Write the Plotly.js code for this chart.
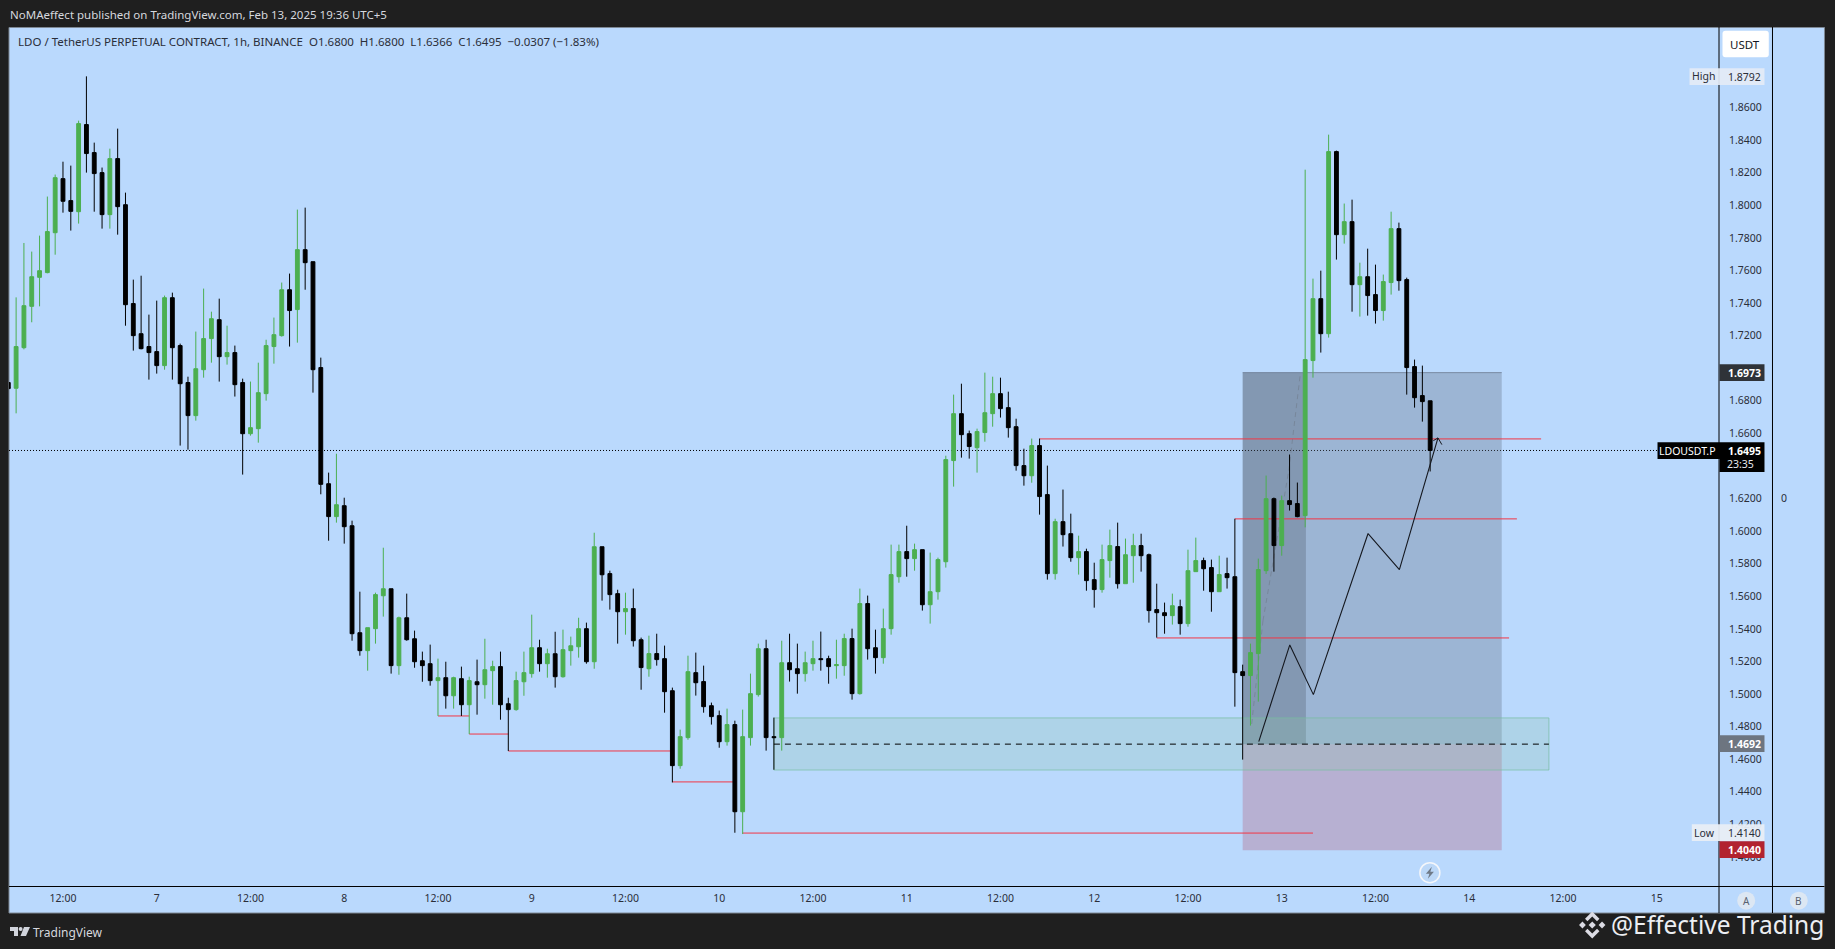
<!DOCTYPE html>
<html>
<head>
<meta charset="utf-8">
<title>LDOUSDT.P</title>
<script src="https://cdn.plot.ly/plotly-3.0.1.min.js"></script>
<style>html,body{margin:0;padding:0;background:#1f1f1f;overflow:hidden}#chart{width:1835px;height:949px}</style>
</head>
<body>
<div id="chart"></div>
<script>
// hours since Feb 6 00:00
const hours = [5,6,7,8,9,10,11,12,13,14,15,16,17,18,19,20,21,22,23,24,25,26,27,28,29,30,31,32,33,34,35,36,37,38,39,40,41,42,43,44,45,46,47,48,49,50,51,52,53,54,55,56,57,58,59,60,61,62,63,64,65,66,67,68,69,70,71,72,73,74,75,76,77,78,79,80,81,82,83,84,85,86,87,88,89,90,91,92,93,94,95,96,97,98,99,100,101,102,103,104,105,106,107,108,109,110,111,112,113,114,115,116,117,118,119,120,121,122,123,124,125,126,127,128,129,130,131,132,133,134,135,136,137,138,139,140,141,142,143,144,145,146,147,148,149,150,151,152,153,154,155,156,157,158,159,160,161,162,163,164,165,166,167,168,169,170,171,172,173,174,175,176,177,178,179,180,181,182,183,184,185,186,187];
const open = [1.6912,1.6877,1.7126,1.7380,1.7558,1.7587,1.7832,1.8164,1.8029,1.7961,
1.8496,1.8324,1.8201,1.7943,1.8287,1.8004,1.7397,1.7212,1.7133,1.7102,
1.7016,1.7433,1.7139,1.6912,1.6709,1.6991,1.7182,1.7298,1.7071,1.7096,
1.6912,1.6598,1.6629,1.6844,1.7133,1.7200,1.7482,1.7360,1.7728,1.7654,
1.7004,1.6291,1.6089,1.6156,1.6033,1.5376,1.5266,1.5401,1.5603,1.5646,
1.5174,1.5468,1.5339,1.5204,1.5186,1.5082,1.5100,1.4989,1.5094,1.4934,
1.5075,1.5057,1.5143,1.5168,1.4940,1.4904,1.5075,1.5125,1.5284,1.5186,
1.5247,1.5106,1.5266,1.5290,1.5401,1.5198,1.5904,1.5739,1.5616,1.5505,
1.5524,1.5333,1.5155,1.5248,1.5217,1.5020,1.4560,1.4732,1.5131,1.5076,
1.4928,1.4867,1.4707,1.4812,1.4277,1.4732,1.4996,1.5278,1.4738,1.4732,
1.5192,1.5155,1.5125,1.5186,1.5217,1.5217,1.5174,1.5174,1.5340,1.5002,
1.5555,1.5284,1.5223,1.5401,1.5720,1.5874,1.5831,1.5886,1.5548,1.5628,
1.5812,1.6433,1.6721,1.6598,1.6512,1.6605,1.6721,1.6844,1.6758,1.6641,
1.6402,1.6340,1.6525,1.6224,1.5739,1.6058,1.5984,1.5837,1.5874,1.5702,
1.5641,1.5819,1.5905,1.5677,1.5849,1.5911,1.5855,1.5518,1.5499,1.5481,
1.5536,1.5432,1.5751,1.5819,1.5776,1.5628,1.5739,1.5720,1.5137,1.5113,
1.5248,1.5757,1.6199,1.5911,1.6187,1.6169,1.6095,1.7047,1.7427,1.7212,
1.8330,1.7820,1.7900,1.7513,1.7562,1.7452,1.7354,1.7526,1.7857,1.7544,
1.7010,1.6832,1.6800];
const high = [1.6944,1.7435,1.7769,1.7716,1.7814,1.8054,1.8189,1.8268,1.8244,1.8520,
1.8792,1.8385,1.8232,1.8348,1.8471,1.8078,1.7544,1.7568,1.7329,1.7415,
1.7446,1.7464,1.7151,1.6948,1.7225,1.7489,1.7347,1.7427,1.7261,1.7139,
1.6936,1.6918,1.7034,1.7175,1.7311,1.7526,1.7581,1.7974,1.7986,1.7654,
1.7065,1.6359,1.6475,1.6205,1.6064,1.5628,1.5407,1.5622,1.5898,1.5646,
1.5475,1.5616,1.5389,1.5260,1.5303,1.5217,1.5198,1.5106,1.5168,1.5106,
1.5211,1.5339,1.5204,1.5260,1.4977,1.5137,1.5260,1.5487,1.5333,1.5278,
1.5382,1.5395,1.5352,1.5468,1.5438,1.5990,1.5904,1.5757,1.5640,1.5622,
1.5647,1.5346,1.5358,1.5370,1.5297,1.5039,1.4781,1.5235,1.5254,1.5174,
1.4947,1.4898,1.4910,1.4836,1.4904,1.5125,1.5309,1.5333,1.4855,1.5327,
1.5370,1.5309,1.5260,1.5327,1.5383,1.5235,1.5333,1.5370,1.5401,1.5647,
1.5604,1.5395,1.5524,1.5917,1.5917,1.6033,1.5923,1.5886,1.5868,1.5837,
1.6463,1.6838,1.6905,1.6617,1.6629,1.6973,1.6948,1.6942,1.6856,1.6690,
1.6506,1.6568,1.6568,1.6402,1.6076,1.6255,1.6107,1.5972,1.5892,1.5806,
1.5917,1.6009,1.6052,1.5954,1.5984,1.5984,1.5862,1.5677,1.5561,1.5616,
1.5579,1.5886,1.5960,1.5837,1.5825,1.5849,1.5837,1.6076,1.5180,1.5309,
1.5831,1.6341,1.6206,1.6218,1.6470,1.6298,1.8219,1.7550,1.7599,1.8434,
1.8336,1.8011,1.8035,1.7648,1.7734,1.7636,1.7575,1.7961,1.7894,1.7556,
1.7053,1.7016,1.6800];
const low = [1.6842,1.6723,1.7116,1.7282,1.7380,1.7583,1.7697,1.7955,1.7845,1.7888,
1.8201,1.7961,1.7857,1.7857,1.7820,1.7261,1.7108,1.7116,1.6930,1.6967,
1.6991,1.6930,1.6525,1.6500,1.6678,1.6942,1.7034,1.6918,1.7022,1.6826,
1.6347,1.6586,1.6543,1.6801,1.7028,1.7194,1.7133,1.7157,1.7482,1.6850,
1.6226,1.5941,1.6052,1.5923,1.5327,1.5235,1.5143,1.5309,1.5475,1.5125,
1.5118,1.5327,1.5161,1.5075,1.5051,1.4865,1.4910,1.4910,1.4865,1.4754,
1.4873,1.4971,1.4934,1.4842,1.4650,1.4897,1.4989,1.5100,1.5137,1.5100,
1.5039,1.5100,1.5174,1.5223,1.5186,1.5155,1.5573,1.5518,1.5309,1.5364,
1.5291,1.5026,1.5106,1.5174,1.4885,1.4457,1.4541,1.4719,1.4990,1.4885,
1.4812,1.4670,1.4683,1.4148,1.4140,1.4683,1.4984,1.4652,1.4535,1.4652,
1.5076,1.5002,1.5076,1.5143,1.5143,1.5063,1.5094,1.5112,1.4965,1.4996,
1.5211,1.5125,1.5186,1.5364,1.5683,1.5720,1.5757,1.5512,1.5432,1.5579,
1.5776,1.6273,1.6451,1.6445,1.6359,1.6549,1.6641,1.6697,1.6574,1.6371,
1.6279,1.6297,1.6101,1.5702,1.5702,1.5905,1.5812,1.5733,1.5634,1.5530,
1.5622,1.5714,1.5647,1.5677,1.5683,1.5751,1.5438,1.5346,1.5370,1.5426,
1.5364,1.5413,1.5751,1.5634,1.5505,1.5628,1.5647,1.4922,1.4597,1.4806,
1.4953,1.5737,1.5751,1.5849,1.6126,1.6085,1.6023,1.6942,1.7096,1.7188,
1.7667,1.7765,1.7347,1.7317,1.7323,1.7274,1.7292,1.7452,1.7476,1.6838,
1.6758,1.6672,1.6366];
const close = [1.6875,1.7133,1.7384,1.7562,1.7599,1.7839,1.8170,1.8025,1.7963,1.8502,
1.8318,1.8195,1.7943,1.8287,1.7992,1.7390,1.7200,1.7120,1.7096,1.7016,
1.7433,1.7126,1.6905,1.6709,1.6997,1.7182,1.7304,1.7071,1.7096,1.6899,
1.6598,1.6635,1.6850,1.7139,1.7206,1.7482,1.7354,1.7728,1.7648,1.6991,
1.6287,1.6089,1.6162,1.6027,1.5370,1.5266,1.5407,1.5610,1.5646,1.5174,
1.5468,1.5333,1.5198,1.5174,1.5082,1.5100,1.4989,1.5100,1.4934,1.5082,
1.5057,1.5149,1.5168,1.4934,1.4904,1.5082,1.5131,1.5284,1.5186,1.5247,
1.5106,1.5272,1.5296,1.5401,1.5198,1.5904,1.5732,1.5610,1.5505,1.5524,
1.5327,1.5162,1.5248,1.5211,1.5014,1.4560,1.4738,1.5137,1.5069,1.4922,
1.4861,1.4707,1.4812,1.4277,1.4738,1.5002,1.5278,1.4732,1.4732,1.5192,
1.5149,1.5125,1.5192,1.5217,1.5211,1.5168,1.5180,1.5340,1.5002,1.5555,
1.5278,1.5223,1.5401,1.5733,1.5874,1.5831,1.5886,1.5548,1.5628,1.5825,
1.6439,1.6721,1.6592,1.6519,1.6611,1.6727,1.6844,1.6752,1.6635,1.6402,
1.6340,1.6525,1.6212,1.5739,1.6058,1.5978,1.5837,1.5874,1.5696,1.5641,
1.5825,1.5911,1.5677,1.5855,1.5911,1.5849,1.5512,1.5499,1.5481,1.5542,
1.5432,1.5757,1.5819,1.5769,1.5628,1.5733,1.5714,1.5131,1.5113,1.5254,
1.5764,1.6199,1.5911,1.6187,1.6163,1.6089,1.7053,1.7427,1.7212,1.8330,
1.7820,1.7900,1.7513,1.7562,1.7446,1.7354,1.7532,1.7857,1.7538,1.7004,
1.6819,1.6795,1.6495];

// axis ticks
const xTickVals = [12,24,36,48,60,72,84,96,108,120,132,144,156,168,180,192,204,216];
const xTickText = ['12:00','7','12:00','8','12:00','9','12:00','10','12:00','11','12:00','12','12:00','13','12:00','14','12:00','15'];
const yTickVals = [1.40,1.42,1.44,1.46,1.48,1.50,1.52,1.54,1.56,1.58,1.60,1.62,1.66,1.68,1.72,1.74,1.76,1.78,1.80,1.82,1.84,1.86];

// drawn levels: [start hour, end hour, price]
const redHours0 = [60,64,69,90,99,137,162,152];
const redHours1 = [64,69,90,98,172,201.2,198.1,197.1];
const redPrices = [1.4865,1.4754,1.4650,1.4460,1.4146,1.6566,1.6075,1.5344];
const lastPrice = 1.6495;
const demandZone = {x0:103,x1:202.2,top:1.4853,bottom:1.4533,mid:1.4692};
const position = {x0:163,xSplit:171.1,x1:196.16,target:1.6973,entry:1.4692,stop:1.4040};
const zigHours = [165.06,169.03,172.05,179.05,183.06,188.0];
const zigPrices = [1.4707,1.5301,1.4996,1.5985,1.5764,1.6572];
const headHours = [187.4,188.0,188.5];
const headPrices = [1.6555,1.6572,1.6531];
const ghostHours = [164.15,165.6,168.9,170.35];
const ghostPrices = [1.4816,1.5450,1.6371,1.6954];

const L=9,R=1719.5,T=27,B=886,W=1835,H=949;
const px=x=>(x-L)/(R-L), py=y=>(B-y)/(B-T);
const BLUE='#bad9fd', FONT='"Noto Sans", sans-serif';

function pr(x0,y0,x1,y1,fill,line,layer){return {type:'rect',xref:'paper',yref:'paper',x0:px(x0),x1:px(x1),y0:py(y0),y1:py(y1),fillcolor:fill,line:line||{width:0},layer:layer||'above'};}
function pl(x0,y0,x1,y1,color,w){return {type:'line',xref:'paper',yref:'paper',x0:px(x0),x1:px(x1),y0:py(y0),y1:py(y1),line:{color:color,width:w||1},layer:'above'};}
function poly(pts,fill){return {type:'path',xref:'paper',yref:'paper',path:'M'+pts.map(p=>px(p[0])+' '+py(p[1])).join(' L')+' Z',fillcolor:fill,line:{width:0},layer:'above'};}
function circ(cx,cy,r,fill,line){return {type:'circle',xref:'paper',yref:'paper',x0:px(cx-r),x1:px(cx+r),y0:py(cy+r),y1:py(cy-r),fillcolor:fill,line:line||{width:0},layer:'above'};}
function txt(text,x,y,size,color,anchor,opts){return Object.assign({xref:'paper',yref:'paper',x:px(x),y:py(y),text:text,showarrow:false,xanchor:anchor||'left',yanchor:'middle',font:{family:FONT,size:size,color:color},borderpad:0,borderwidth:0},opts||{});}

const shapes=[];
// panel background (extends under the right-hand scales)
shapes.push(pr(9,27.5,1825,913,BLUE,{color:'#7e8894',width:1},'below'));
// position tool
shapes.push({type:'rect',xref:'x',yref:'y',x0:position.x0,x1:position.x1,y0:position.entry,y1:position.target,fillcolor:'rgba(101,114,136,0.35)',line:{width:0},layer:'below'});
shapes.push({type:'rect',xref:'x',yref:'y',x0:position.x0,x1:position.x1,y0:position.stop,y1:position.entry,fillcolor:'rgba(178,100,130,0.35)',line:{width:0},layer:'below'});
shapes.push({type:'rect',xref:'x',yref:'y',x0:position.x0,x1:position.xSplit,y0:position.entry,y1:position.target,fillcolor:'rgba(0,0,0,0.155)',line:{width:0},layer:'below'});
shapes.push({type:'line',xref:'x',yref:'y',x0:position.x0,x1:position.x1,y0:position.target,y1:position.target,line:{color:'rgba(110,125,150,0.8)',width:1},layer:'below'});
// demand zone
shapes.push({type:'rect',xref:'x',yref:'y',x0:demandZone.x0,x1:demandZone.x1,y0:demandZone.bottom,y1:demandZone.top,fillcolor:'rgba(139,197,173,0.25)',line:{color:'rgba(120,190,160,0.7)',width:1},layer:'below'});
shapes.push({type:'line',xref:'x',yref:'y',x0:demandZone.x0,x1:demandZone.x1,y0:demandZone.mid,y1:demandZone.mid,line:{color:'#000',width:1,dash:'6px,5px'},layer:'below'});
// red levels
redPrices.forEach((p,i)=>shapes.push({type:'line',xref:'x',yref:'y',x0:redHours0[i],x1:redHours1[i],y0:p,y1:p,line:{color:'#f23645',width:1},layer:'below'}));
// last price
shapes.push({type:'line',xref:'paper',yref:'y',x0:0,x1:px(1658),y0:lastPrice,y1:lastPrice,line:{color:'#000',width:1,dash:'1px,2px'},layer:'below'});
// ghost projected path
for(let i=0;i<ghostHours.length-1;i++)shapes.push({type:'line',xref:'x',yref:'y',x0:ghostHours[i],x1:ghostHours[i+1],y0:ghostPrices[i],y1:ghostPrices[i+1],line:{color:'rgba(110,120,135,0.55)',width:1,dash:'5px,4px'},layer:'below'});
// frame lines
shapes.push(pl(9,886.5,1825,886.5,'#000'),pl(1719.5,27,1719.5,913,'#000'),pl(1773,27,1773,913,'#000'));
// price scale boxes
shapes.push(pr(1690,68.3,1765,85,'rgba(228,236,246,0.92)'));
shapes.push(pr(1720,364.3,1765,381,'#2f3338'));
shapes.push(pr(1658,442.3,1765,459,'#000'),pr(1720,459,1765,472,'#000'));
shapes.push(pr(1720,735.3,1765,752,'#6d7580'));
shapes.push(pr(1692.3,824.3,1765,841,'rgba(232,238,246,0.95)'));
shapes.push(pr(1720,841.3,1765,858,'#b2232f'));
// USDT button
shapes.push({type:'path',xref:'paper',yref:'paper',path:'M'+px(1726)+' '+py(30.7)+' L'+px(1766.3)+' '+py(30.7)+' Q'+px(1769.3)+' '+py(30.7)+' '+px(1769.3)+' '+py(33.7)+' L'+px(1769.3)+' '+py(54.3)+' Q'+px(1769.3)+' '+py(57.3)+' '+px(1766.3)+' '+py(57.3)+' L'+px(1726)+' '+py(57.3)+' Q'+px(1723)+' '+py(57.3)+' '+px(1723)+' '+py(54.3)+' L'+px(1723)+' '+py(33.7)+' Q'+px(1723)+' '+py(30.7)+' '+px(1726)+' '+py(30.7)+' Z',fillcolor:'#fff',line:{width:0},layer:'above'});
// pane buttons
shapes.push(circ(1746.7,900.7,9,'rgba(224,232,242,0.9)'),circ(1799.3,900.7,9,'rgba(224,232,242,0.9)'));
// lightning badge
shapes.push(circ(1430.3,872.7,10,'rgba(190,215,245,0.6)',{color:'#f4f6fa',width:1.5}));
shapes.push(poly([[1432.3,866.7],[1426.3,873.7],[1429.8,873.7],[1428.3,878.7],[1434.3,871.7],[1430.8,871.7]],'#6f7a88'));
// TradingView mark
shapes.push(poly([[10,927],[18,927],[18,936],[14,936],[14,931],[10,931]],'#d1d4dc'));
shapes.push(circ(20.6,929,2,'#d1d4dc'));
shapes.push(poly([[24,927],[30,927],[26,936],[20.5,936]],'#d1d4dc'));
// Binance-style mark
const bc=[1592.7,925],LOGO='#dcdce4';
const off=(a)=>a.map(p=>[bc[0]+p[0],bc[1]+p[1]]);
shapes.push(poly(off([[0,-3.6],[3.6,0],[0,3.6],[-3.6,0]]),LOGO));
shapes.push(poly(off([[-9.8,-3.4],[-6.4,0],[-9.8,3.4],[-13.2,0]]),LOGO));
shapes.push(poly(off([[9.8,-3.4],[13.2,0],[9.8,3.4],[6.4,0]]),LOGO));
shapes.push(poly(off([[0,-13.4],[7.2,-6.2],[4.8,-3.8],[0,-8.6],[-4.8,-3.8],[-7.2,-6.2]]),LOGO));
shapes.push(poly(off([[0,13.4],[7.2,6.2],[4.8,3.8],[0,8.6],[-4.8,3.8],[-7.2,6.2]]),LOGO));

const DARKTXT='#2a2e39', LIGHT='#d6d8de';
const annotations=[
 txt('NoMAeffect published on TradingView.com, Feb 13, 2025 19:36 UTC+5',10,15,11.5,LIGHT),
 txt('LDO / TetherUS PERPETUAL CONTRACT, 1h, BINANCE&nbsp;&nbsp;O1.6800&nbsp;&nbsp;H1.6800&nbsp;&nbsp;L1.6366&nbsp;&nbsp;C1.6495&nbsp;&nbsp;\u22120.0307 (\u22121.83%)',18,41.5,11.5,DARKTXT),
 txt('USDT',1746,44.5,11.5,'#131722','center'),
 txt('High',1704,76.5,10.5,DARKTXT,'center'),
 txt('1.8792',1745,77,10.5,DARKTXT,'center'),
 txt('<b>1.6973</b>',1745,373,10.5,'#fff','center'),
 txt('LDOUSDT.P',1688,451,10.5,'#fff','center'),
 txt('<b>1.6495</b>',1745,451,10.5,'#fff','center'),
 txt('23:35',1741,464,10.5,'#e6e8ec','center'),
 txt('<b>1.4692</b>',1745,744,10.5,'#fff','center'),
 txt('Low',1705,833,10.5,DARKTXT,'center'),
 txt('1.4140',1745,833,10.5,DARKTXT,'center'),
 txt('<b>1.4040</b>',1745,850,10.5,'#fff','center'),
 txt('0',1785,498,10.5,DARKTXT,'center'),
 txt('A',1746.7,901,10,'#5a6270','center'),
 txt('B',1799.3,901,10,'#5a6270','center'),
 txt('TradingView',33,932,12,LIGHT),
 txt('@Effective Trading',1611,924.5,24.5,'#eceef2')
];

const traces=[
 {type:'candlestick',x:hours,open:open,high:high,low:low,close:close,
  increasing:{line:{color:'#4caf50',width:1},fillcolor:'#4caf50'},
  decreasing:{line:{color:'#000000',width:1},fillcolor:'#000000'},
  whiskerwidth:0,hoverinfo:'skip',showlegend:false},
 {type:'scatter',mode:'lines',x:zigHours,y:zigPrices,line:{color:'#15181f',width:1.1},hoverinfo:'skip',showlegend:false},
 {type:'scatter',mode:'lines',x:headHours,y:headPrices,line:{color:'#15181f',width:1},hoverinfo:'skip',showlegend:false}
];

const layout={
 width:W,height:H,margin:{l:L,r:W-R,t:T,b:H-B,pad:0},
 paper_bgcolor:'#1f1f1f',plot_bgcolor:BLUE,showlegend:false,dragmode:false,
 font:{family:FONT,color:DARKTXT},
 xaxis:{type:'linear',range:[5.09,223.97],autorange:false,tickmode:'array',tickvals:xTickVals,ticktext:xTickText,
  showgrid:false,zeroline:false,showline:false,ticks:'',ticklabelstandoff:4,tickangle:0,rangeslider:{visible:false},fixedrange:true,
  tickfont:{family:FONT,size:10.5,color:DARKTXT}},
 yaxis:{type:'linear',side:'right',range:[1.3821,1.9095],autorange:false,tickmode:'array',tickvals:yTickVals,ticktext:yTickVals.map(v=>v.toFixed(4)),
  showgrid:false,zeroline:false,showline:false,ticks:'',ticklabelstandoff:9,fixedrange:true,
  tickfont:{family:FONT,size:10.5,color:DARKTXT}},
 shapes:shapes,annotations:annotations
};
Plotly.newPlot('chart',traces,layout,{displayModeBar:false,staticPlot:true});
</script>
</body>
</html>
